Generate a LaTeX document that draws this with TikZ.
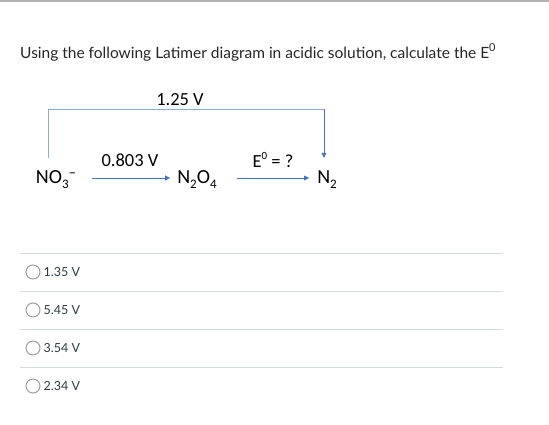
\documentclass[tikz,border=0pt]{standalone}
\usepackage{fontspec}
\setmainfont{Lato}
\newfontfamily\calibri{Carlito}
\usetikzlibrary{arrows.meta}
\definecolor{latblue}{HTML}{4472C4}
\definecolor{latpale}{HTML}{8FAADC}
\definecolor{optrule}{HTML}{D5DADD}
\definecolor{opttext}{HTML}{2D3B45}
\newcommand{\chsub}[1]{\raisebox{-0.25em}{\fontsize{13}{14}\selectfont #1}}
\newcommand{\chsup}[1]{\raisebox{0.45em}{\fontsize{11}{12}\selectfont #1}}

\begin{document}
\begin{tikzpicture}[x=1pt, y=1pt,
	chem/.style={font=\calibri\fontsize{20}{24}\selectfont, inner sep=0pt, text height=14pt, text depth=4pt},
	pot/.style={font=\calibri\fontsize{18.5}{22}\selectfont, inner sep=0pt},
	reac/.style={draw=latblue, line width=0.7pt, -{Triangle[length=5pt, width=5pt]}},
	bracket/.style={draw=latpale, line width=0.6pt},
	opt/.style={font=\fontsize{12.5}{15}\selectfont, text=opttext, anchor=west, inner sep=0pt},
	radio/.style={draw=gray!75, line width=1pt, fill=white}]
	\useasboundingbox (0,0) rectangle (549,-424);
	\draw[gray!60, line width=1.5pt] (0,-0.75) -- (549,-0.75);
	\node[anchor=west, font=\fontsize{15.5}{18}\selectfont, text=black!85, inner sep=0pt] (question) at (20,-52) {Using the following Latimer diagram in acidic solution, calculate the E\chsup{0}};
	\node[chem] (no3) at (56,-178) {NO\chsub{3}\raisebox{0.3em}{\fontsize{15}{16}\selectfont\textendash}};
	\node[chem] (n2o4) at (197,-178) {N\chsub{2}O\chsub{4}};
	\node[chem] (n2) at (327,-178) {N\chsub{2}};
	\draw[reac, shorten <=16pt, shorten >=7pt] (no3.east) -- (n2o4.west);
	\draw[reac, shorten <=20pt, shorten >=8pt] (n2o4.east) -- (n2.west);
	\node[pot] (e1) at (130,-160) {0.803 V};
	\node[pot] (e2) at (273,-160) {E\chsup{0} = ?};
	\coordinate (bl) at (48,-109);
	\coordinate (br) at (324,-109);
	\draw[bracket] ([yshift=11pt]bl |- no3.north) -- (bl) -- (br);
	\draw[reac] (br) -- ([yshift=11pt]br |- n2.north);
	\node[pot] (e3) at (180,-100) {1.25 V};
	\foreach \k/\val in {0/1.35, 1/5.45, 2/3.54, 3/2.34} {
		\draw[optrule, line width=0.8pt] (20,-253-38*\k) -- (503,-253-38*\k);
		\draw[radio] (33,-272-38*\k) circle (7);
		\node[opt] (opt\k) at (43.5,-272-38*\k) {\val\ V};
	}
\end{tikzpicture}
\end{document}
